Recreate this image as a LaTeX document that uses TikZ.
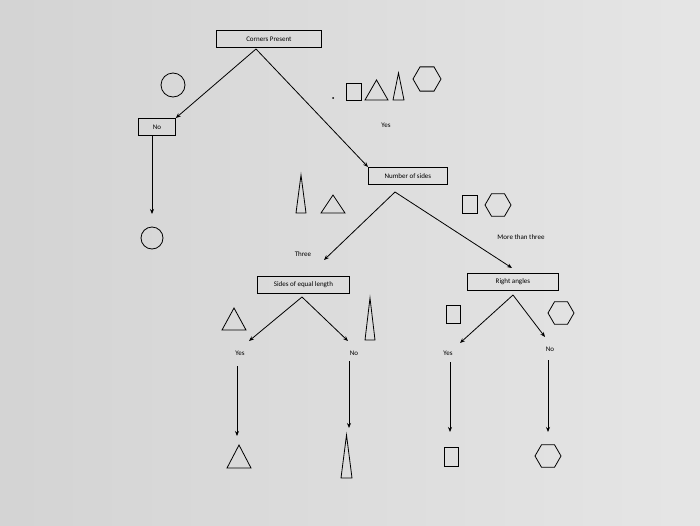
\documentclass[tikz,border=0pt]{standalone}
\usepackage{fontspec}
\setmainfont{Carlito}
\usetikzlibrary{arrows.meta}
\begin{document}
\begin{tikzpicture}[x=1pt,y=-1pt,
  lbl/.style={draw,thick,minimum height=17pt,inner sep=2pt,font=\fontsize{7}{8}\selectfont,anchor=north west},
  txt/.style={font=\fontsize{7}{8}\selectfont},
  arr/.style={thick,-{Stealth[length=5pt,width=4pt]}},
  shp/.style={thick}]
\fill[left color=black!17,right color=black!10] (0,0) rectangle (700,525);
\useasboundingbox (0,0) rectangle (700,525);
% boxes
\node[lbl,minimum width=105pt] (cp) at (216,30) {Corners Present};
\node[lbl,minimum width=37pt] (no1) at (138,118) {No};
\node[lbl,minimum width=79pt] (ns) at (368,167) {Number of sides};
\node[lbl,minimum width=92pt] (se) at (257,276) {Sides of equal length};
\node[lbl,minimum width=91pt] (ra) at (467,273) {Right angles};
% free ends
\coordinate (cpb) at (256,49);
\coordinate (nsb) at (395,192);
\coordinate (seb) at (302,297);
\coordinate (rab) at (513,295);
\coordinate (y1) at (249,341);
\coordinate (n1) at (348,341);
\coordinate (y2) at (460,343);
\coordinate (n2) at (545,337);
\draw[thick,-{Stealth[length=5pt,width=4pt]}] (cpb) -- (no1.north east);
\draw[arr] (cpb) -- (ns.north west);
\draw[arr] (nsb) -- (324,260) coordinate (thr);
\draw[arr] (nsb) -- (512,268) coordinate (mt);
\draw[arr] (seb) -- (y1);
\draw[arr] (seb) -- (n1);
\draw[arr] (rab) -- (y2);
\draw[arr] (rab) -- (n2);
\coordinate (nob) at (152,136);
\draw[arr] (nob) -- (152,214);
% labels
\node[txt] (lyes) at (386,125) {Yes};
\node[txt] (lthree) at (303,254) {Three};
\node[txt] (lmore) at (521,237) {More than three};
\node[txt] (lY1) at (240,353) {Yes};
\node[txt] (lN1) at (354,353) {No};
\node[txt] (lY2) at (448,353) {Yes};
\node[txt] (lN2) at (550,349) {No};
\coordinate (a1) at (237,366); \draw[arr] (a1) -- (237,436);
\coordinate (a2) at (349,361); \draw[arr] (a2) -- (349,428);
\coordinate (a3) at (450,362); \draw[arr] (a3) -- (450,432);
\coordinate (a4) at (548,360); \draw[arr] (a4) -- (548,432);
% shapes
\draw[shp] (173,85) circle (12);
\draw[shp] (152,238) circle (11);
\draw[shp] (346,83) rectangle (361,100);
\draw[shp] (365,100) -- (388,100) -- (376.5,80) -- cycle;
\draw[shp] (393,100) -- (404,100) -- (398.5,73) -- cycle;
\draw[shp] (427,79) ++(0:14) -- ++(120:14) -- ++(180:14) -- ++(240:14) -- ++(300:14) -- ++(0:14) -- cycle;
\fill (333,98) circle (1);
\draw[shp] (296,213) -- (306,213) -- (301,175) -- cycle;
\draw[shp] (321,213) -- (345,213) -- (333,195) -- cycle;
\draw[shp] (462,195) rectangle (477,213);
\draw[shp] (498,205) ++(0:13) -- ++(120:13) -- ++(180:13) -- ++(240:13) -- ++(300:13) -- ++(0:13) -- cycle;
\draw[shp] (222,330) -- (246,330) -- (234,308) -- cycle;
\draw[shp] (365,340) -- (375,340) -- (370,298) -- cycle;
\draw[shp] (446,305) rectangle (460,323);
\draw[shp] (561,313) ++(0:13) -- ++(120:13) -- ++(180:13) -- ++(240:13) -- ++(300:13) -- ++(0:13) -- cycle;
\draw[shp] (227,468) -- (251,468) -- (239,445) -- cycle;
\draw[shp] (341,478) -- (352,478) -- (346.5,435) -- cycle;
\draw[shp] (444,447) rectangle (458,466);
\draw[shp] (548,456) ++(0:13) -- ++(120:13) -- ++(180:13) -- ++(240:13) -- ++(300:13) -- ++(0:13) -- cycle;
\end{tikzpicture}
\end{document}
